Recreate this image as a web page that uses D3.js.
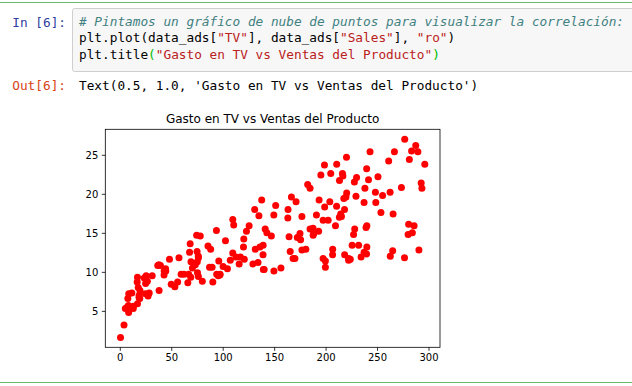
<!DOCTYPE html>
<html>
<head>
<meta charset="utf-8">
<script src="https://cdn.jsdelivr.net/npm/d3@7"></script>
<style>
  body { margin: 0; background: #fff; }
  .mono { font-family: "DejaVu Sans Mono", monospace; font-size: 12.75px; white-space: pre; }
  .mpl { font-family: "DejaVu Sans", sans-serif; }
</style>
</head>
<body>
<div id="wrapper"></div>
<script>
// Advertising data: TV spend vs Sales
const tv = [230.1,44.5,17.2,151.5,180.8,8.7,57.5,120.2,8.6,199.8,66.1,214.7,23.8,97.5,204.1,195.4,67.8,281.4,69.2,147.3,
  218.4,237.4,13.2,228.3,62.3,262.9,142.9,240.1,248.8,70.6,292.9,112.9,97.2,265.6,95.7,290.7,266.9,74.7,43.1,228,
  202.5,177,293.6,206.9,25.1,175.1,89.7,239.9,227.2,66.9,199.8,100.4,216.4,182.6,262.7,198.9,7.3,136.2,210.8,210.7,
  53.5,261.3,239.3,102.7,131.1,69,31.5,139.3,237.4,216.8,199.1,109.8,26.8,129.4,213.4,16.9,27.5,120.5,5.4,116,
  76.4,239.8,75.3,68.4,213.5,193.2,76.3,110.7,88.3,109.8,134.3,28.6,217.7,250.9,107.4,163.3,197.6,184.9,289.7,135.2,
  222.4,296.4,280.2,187.9,238.2,137.9,25,90.4,13.1,255.4,225.8,241.7,175.7,209.6,78.2,75.1,139.2,76.4,125.7,19.4,
  141.3,18.8,224,123.1,229.5,87.2,7.8,80.2,220.3,59.6,0.7,265.2,8.4,219.8,36.9,48.3,25.6,273.7,43,184.9,
  73.4,193.7,220.5,104.6,96.2,140.3,240.1,243.2,38,44.7,280.7,121,197.6,171.3,187.8,4.1,93.9,149.8,11.7,131.7,
  172.5,85.7,188.4,163.5,117.2,234.5,17.9,206.8,215.4,284.3,50,164.5,19.6,168.4,222.4,276.9,248.4,170.2,276.7,165.6,
  156.6,218.5,56.2,287.6,253.8,205,139.5,191.1,286,18.7,39.5,75.5,17.2,166.8,149.7,38.2,94.2,177,283.6,232.1]
const sales = [22.1,10.4,9.3,18.5,12.9,7.2,11.8,13.2,4.8,10.6,8.6,17.4,9.2,9.7,19,22.4,12.5,24.4,11.3,14.6,
  18,12.5,5.6,15.5,9.7,12,15,15.9,18.9,10.5,21.4,11.9,9.6,17.4,9.5,12.8,25.4,14.7,10.1,21.5,
  16.6,17.1,20.7,12.9,8.5,14.9,10.6,23.2,14.8,9.7,11.4,10.7,22.6,21.2,20.2,23.7,5.5,13.2,23.8,18.4,
  8.1,24.2,15.7,14,18,9.3,9.5,13.4,18.9,22.3,18.3,12.4,8.8,11,17,8.7,6.9,14.2,5.3,11,
  11.8,12.3,11.3,13.6,21.7,15.2,12,16,12.9,16.7,11.2,7.3,19.4,22.2,11.5,16.9,11.7,15.5,25.4,17.2,
  11.7,23.8,14.8,14.7,20.7,19.2,7.2,8.7,5.3,19.8,13.4,21.8,14.1,15.9,14.6,12.6,12.2,9.4,15.9,6.6,
  15.5,7,11.6,15.2,19.7,10.6,6.6,8.8,24.7,9.7,1.6,12.7,5.7,19.6,10.8,11.6,9.5,20.8,9.6,20.7,
  10.9,19.2,20.1,10.4,11.4,10.3,13.2,25.4,10.9,10.1,16.1,11.6,16.6,19,15.6,3.2,15.3,10.1,7.3,12.9,
  14.4,13.3,14.9,18,11.9,11.9,8,12.2,17.1,15,8.4,14.5,7.6,11.7,11.5,27,20.2,11.7,11.8,12.6,
  10.5,12.2,8.7,26.2,17.6,22.6,10.3,17.3,15.9,6.7,10.8,9.9,5.9,19.6,17.3,7.6,9.7,12.8,25.5,13.4]
const xTicks = [0, 50, 100, 150, 200, 250, 300]
const yTicks = [5, 10, 15, 20, 25]
const chartTitle = "Gasto en TV vs Ventas del Producto"

const W = 632, H = 386
const svg = d3.select("#wrapper").append("svg")
  .attr("width", W).attr("height", H)

// notebook cell chrome
svg.append("line").attr("x1", 0).attr("x2", W).attr("y1", 2.5).attr("y2", 2.5)
  .attr("stroke", "#66bb6a").attr("stroke-width", 1)
svg.append("line").attr("x1", 0).attr("x2", W).attr("y1", 382.5).attr("y2", 382.5)
  .attr("stroke", "#66bb6a").attr("stroke-width", 1)
svg.append("rect").attr("x", 72.5).attr("y", 8.5).attr("width", W).attr("height", 63)
  .attr("rx", 2).attr("fill", "#f7f7f7").attr("stroke", "#cfcfcf")

svg.append("text").attr("class", "mono").attr("x", 66).attr("y", 26.5)
  .attr("text-anchor", "end").attr("fill", "#303f9f").text("In [6]:")
svg.append("text").attr("class", "mono").attr("x", 66).attr("y", 89.5)
  .attr("text-anchor", "end").attr("fill", "#d84315").text("Out[6]:")

const codeLines = [
  [["# Pintamos un gráfico de nube de puntos para visualizar la correlación:", "#408080", true]],
  [["plt.plot(data_ads[", "#000"], ["\"TV\"", "#ba2121"], ["], data_ads[", "#000"], ["\"Sales\"", "#ba2121"],
   ["], ", "#000"], ["\"ro\"", "#ba2121"], [")", "#000"]],
  [["plt.title", "#000"], ["(", "#00bb00"], ["\"Gasto en TV vs Ventas del Producto\"", "#ba2121"], [")", "#00bb00"]]
]
codeLines.forEach((parts, i) => {
  const t = svg.append("text").attr("class", "mono").attr("x", 79).attr("y", 25.5 + i * 16.6)
  parts.forEach(p => {
    t.append("tspan").attr("fill", p[1]).style("font-style", p[2] ? "italic" : "normal").text(p[0])
  })
})
svg.append("text").attr("class", "mono").attr("x", 79).attr("y", 89.5).attr("fill", "#000")
  .text("Text(0.5, 1.0, 'Gasto en TV vs Ventas del Producto')")

// chart (matplotlib-like axes)
const ax = { left: 105.3, right: 440, top: 129.3, bottom: 347.3 }
const pad = (ext) => { const m = (ext[1] - ext[0]) * 0.05; return [ext[0] - m, ext[1] + m] }
const xScale = d3.scaleLinear().domain(pad(d3.extent(tv))).range([ax.left, ax.right])
const yScale = d3.scaleLinear().domain(pad(d3.extent(sales))).range([ax.bottom, ax.top])

const chart = svg.append("g").attr("class", "mpl")

chart.selectAll("circle")
  .data(tv.map((d, i) => [d, sales[i]]))
  .join("circle")
  .attr("cx", d => xScale(d[0]))
  .attr("cy", d => yScale(d[1]))
  .attr("r", 3.5)
  .attr("fill", "#ff0000")

const xAxis = chart.append("g")
  .attr("transform", `translate(0,${ax.bottom})`)
  .call(d3.axisBottom(xScale).tickValues(xTicks).tickSize(3.5).tickPadding(3.5))
const yAxis = chart.append("g")
  .attr("transform", `translate(${ax.left},0)`)
  .call(d3.axisLeft(yScale).tickValues(yTicks).tickSize(3.5).tickPadding(3.5))
;[xAxis, yAxis].forEach(a => {
  a.select(".domain").remove()
  a.selectAll("line").attr("stroke", "#000").attr("stroke-width", 0.8)
  a.selectAll("text").attr("fill", "#000").style("font-family", "DejaVu Sans, sans-serif").style("font-size", "10px")
})

chart.append("rect")
  .attr("x", ax.left).attr("y", ax.top)
  .attr("width", ax.right - ax.left).attr("height", ax.bottom - ax.top)
  .attr("fill", "none").attr("stroke", "#000").attr("stroke-width", 0.8)

chart.append("text")
  .attr("x", (ax.left + ax.right) / 2).attr("y", ax.top - 6)
  .attr("text-anchor", "middle")
  .style("font-size", "12px").attr("fill", "#000")
  .text(chartTitle)
</script>
</body>
</html>
